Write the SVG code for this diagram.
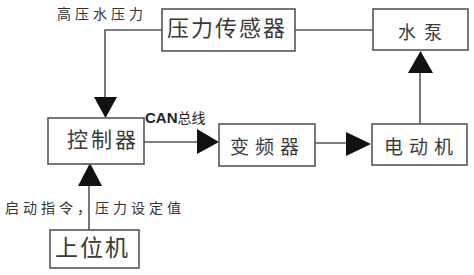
<svg xmlns="http://www.w3.org/2000/svg" width="474" height="275" viewBox="0 0 474 275">
<style>
.box{fill:#fff;stroke:#555;stroke-width:1.6}
.t{font-family:"Noto Sans CJK SC",sans-serif;fill:#3a3a3a}
.l{font-family:"Noto Sans CJK SC",sans-serif;font-size:14px;fill:#333;letter-spacing:4px}
.ln{stroke:#555;stroke-width:1.6;fill:none}
.ah{fill:#111}
</style>
<rect width="474" height="275" fill="#fff"/>
<g id="connectors">
<path class="ln" d="M295 30H373"/>
<path class="ln" d="M162 30H105V100"/>
<polygon class="ah" points="94,97 117,97 105.5,118"/>
<path class="ln" d="M144 142H199"/>
<polygon class="ah" points="197,129 197,154 219,142"/>
<path class="ln" d="M315 143H348"/>
<polygon class="ah" points="346,132 346,156 371,144"/>
<path class="ln" d="M420 124V72"/>
<polygon class="ah" points="408,73 433,73 420.5,51"/>
<path class="ln" d="M89 230V184"/>
<polygon class="ah" points="78,186 102,186 90,163"/>
<text class="l" x="57" y="19">高压水压力</text>
<text x="145" y="123" font-family="Liberation Sans, Noto Sans CJK SC, sans-serif" font-size="15" font-weight="bold" fill="#222">CAN<tspan font-family="Noto Sans CJK SC, sans-serif" font-weight="normal" font-size="14">总线</tspan></text>
<text class="l" x="5" y="213">启动指令，压力设定值</text>
</g>
<g id="sensor"><rect class="box" x="162" y="9" width="133" height="42"/><text class="t" x="167" y="36" font-size="22" letter-spacing="2">压力传感器</text></g>
<g id="pump"><rect class="box" x="373" y="9" width="95" height="41"/><text class="t" x="398" y="39" font-size="18" letter-spacing="8">水泵</text></g>
<g id="controller"><rect class="box" x="48" y="118" width="96" height="46"/><text class="t" x="67" y="147" font-size="21" letter-spacing="3">控制器</text></g>
<g id="vfd"><rect class="box" x="219" y="124" width="96" height="42"/><text class="t" x="230" y="154" font-size="19" letter-spacing="6">变频器</text></g>
<g id="motor"><rect class="box" x="372" y="124" width="95" height="41"/><text class="t" x="384" y="154" font-size="19" letter-spacing="6">电动机</text></g>
<g id="host"><rect class="box" x="50" y="230" width="89" height="38"/><text class="t" x="55" y="256" font-size="23" letter-spacing="2">上位机</text></g>
</svg>
